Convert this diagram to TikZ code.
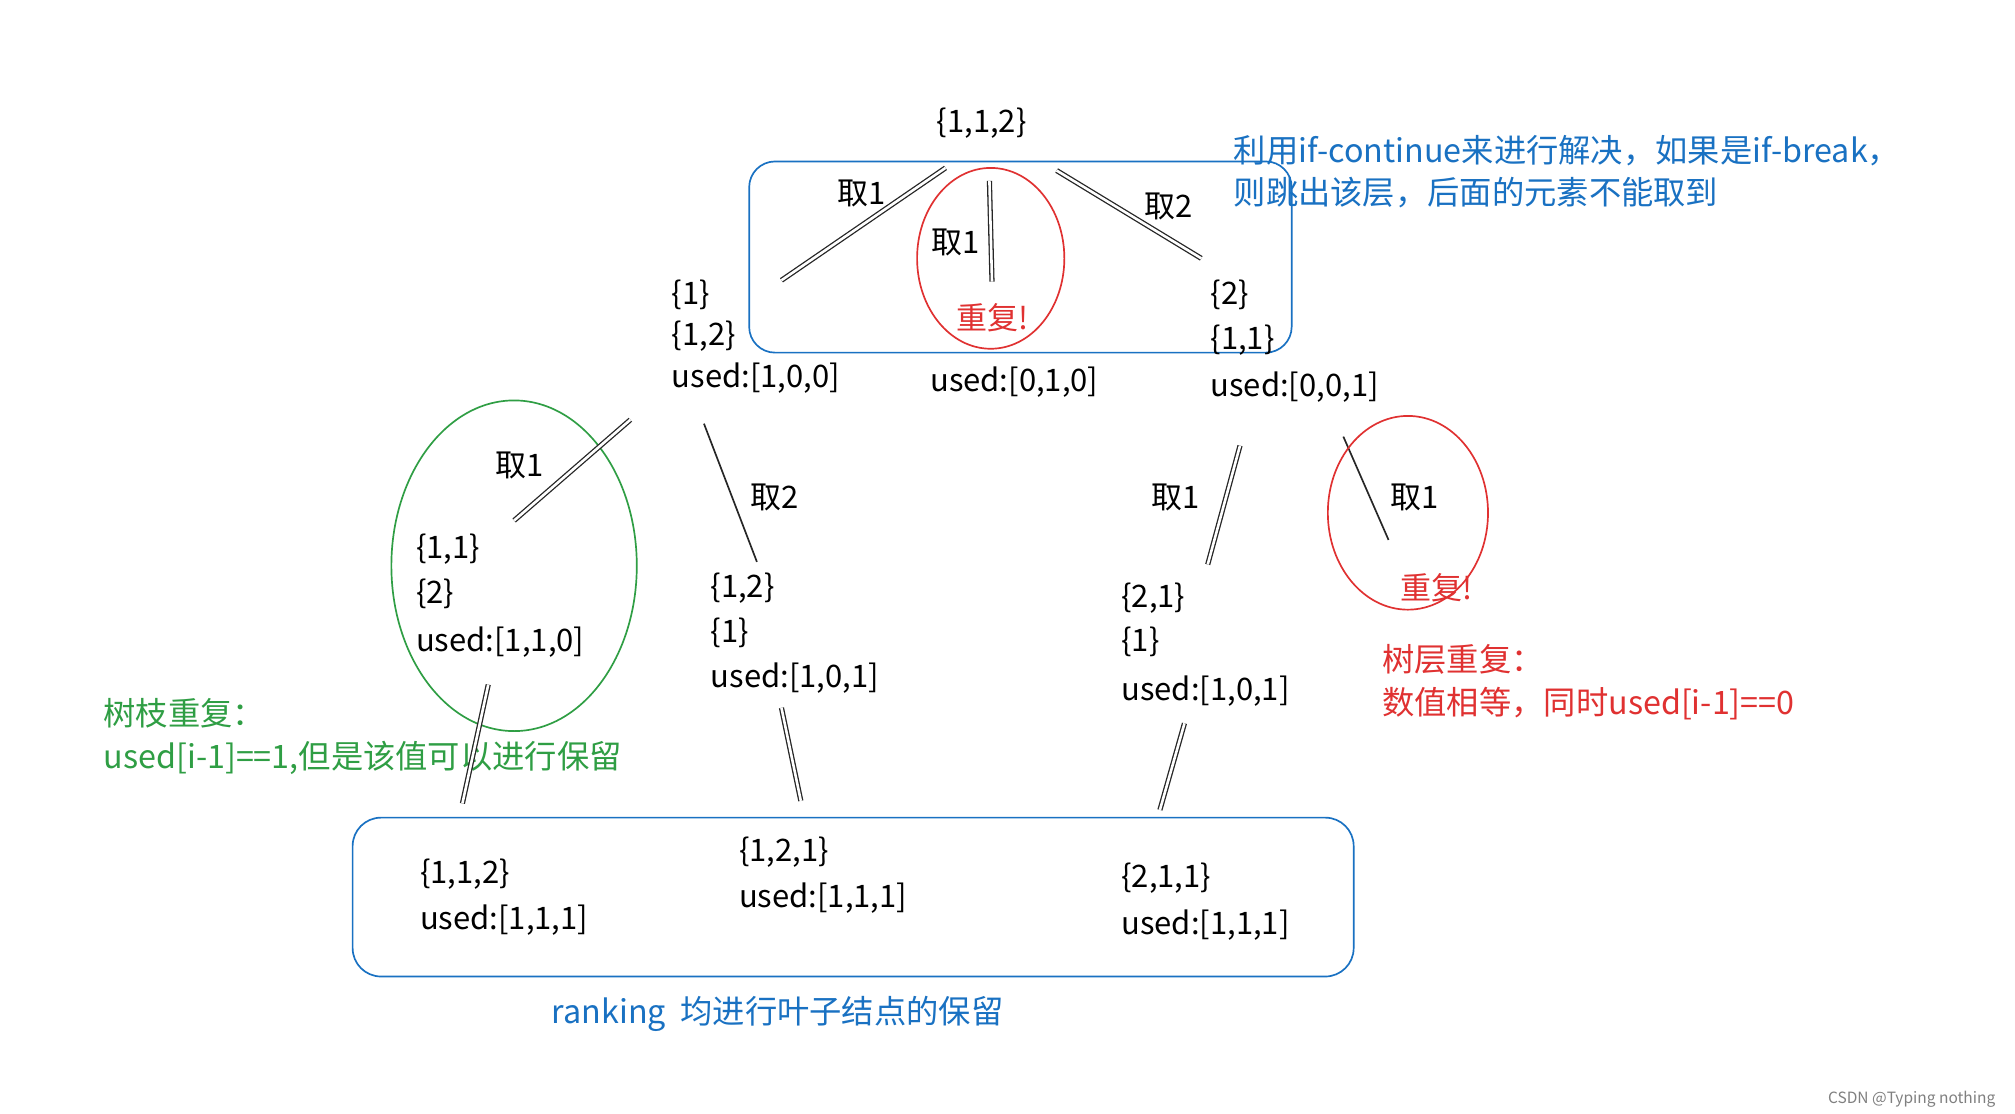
\documentclass[tikz,border=0pt]{standalone}
\usepackage{fontspec}
\setmainfont{Noto Sans CJK SC}
\definecolor{hb}{RGB}{25,113,194}
\definecolor{hr}{RGB}{224,49,49}
\definecolor{hg}{RGB}{47,158,68}
\begin{document}
\begin{tikzpicture}[x=1pt,y=-1pt,
  t/.style={font=\fontsize{24}{28}\selectfont,inner sep=0pt},
  lt/.style={t,anchor=west},
  lab/.style={t},
  ln/.style={line width=1.3pt,black!85},
  dl/.style={ln,double,double distance=2pt,line width=1pt},
  note/.style={font=\fontsize{25}{33}\selectfont,inner sep=0pt,anchor=west,align=left}]
\useasboundingbox (0,0) rectangle (1560,862);
\fill[white] (0,0) rectangle (1560,862);
% top
\node[t] (root) at (760,95) {\{1,1,2\}};
\draw[hb,line width=1.3pt,rounded corners=20pt] (580,125) rectangle (1000,273);
\draw[hr,line width=1.3pt] (767,200) ellipse (57 and 70);
\coordinate (a1) at (732,130); \coordinate (a2) at (605,217);
\coordinate (b1) at (766,140); \coordinate (b2) at (768,218);
\coordinate (c1) at (818,132); \coordinate (c2) at (930,200);
\draw[dl] (a1) -- (a2); \draw[dl] (b1) -- (b2); \draw[dl] (c1) -- (c2);
\node[lab] (l1) at (667,150) {取1};
\node[lab] (l2) at (740,188) {取1};
\node[lab] (l3) at (905,160) {取2};
\node[t,hr] (r1) at (768,246) {重复!};
\node[note,hb] (n1) at (955,133) {利用if-continue来进行解决，如果是if-break，\\则跳出该层，后面的元素不能取到};
% level 1
\node[lt] (s1) at (520,228) {\{1\}};
\node[lt] (s2) at (520,260) {\{1,2\}};
\node[lt] (s3) at (520,293) {used:[1,0,0]};
\node[lt] (m3) at (720,296) {used:[0,1,0]};
\node[lt] (u1) at (937,228) {\{2\}};
\node[lt] (u2) at (937,263) {\{1,1\}};
\node[lt] (u3) at (937,300) {used:[0,0,1]};
% level 2
\draw[hg,line width=1.3pt] (398,438) ellipse (95 and 128);
\coordinate (d1) at (488,325); \coordinate (d2) at (398,403);
\coordinate (e1) at (545,328); \coordinate (e2) at (586,435);
\coordinate (f1) at (960,345); \coordinate (f2) at (935,437);
\coordinate (g1) at (1040,338); \coordinate (g2) at (1075,418);
\draw[dl] (d1) -- (d2); \draw[ln] (e1) -- (e2); \draw[dl] (f1) -- (f2); \draw[ln] (g1) -- (g2);
\node[lab] (l4) at (402,360) {取1};
\node[lab] (l5) at (600,385) {取2};
\node[lab] (l6) at (910,385) {取1};
\node[lab] (l7) at (1095,385) {取1};
\draw[hr,line width=1.3pt] (1090,397) ellipse (62 and 75);
\node[t,hr] (r2) at (1112,455) {重复!};
\node[lt] (p1) at (322,425) {\{1,1\}};
\node[lt] (p2) at (322,460) {\{2\}};
\node[lt] (p3) at (322,497) {used:[1,1,0]};
\node[lt] (q1) at (550,455) {\{1,2\}};
\node[lt] (q2) at (550,490) {\{1\}};
\node[lt] (q3) at (550,525) {used:[1,0,1]};
\node[lt] (w1) at (868,463) {\{2,1\}};
\node[lt] (w2) at (868,497) {\{1\}};
\node[lt] (w3) at (868,535) {used:[1,0,1]};
\node[note,hg] (n2) at (80,570) {树枝重复：\\used[i-1]==1,但是该值可以进行保留};
\node[note,hr] (n3) at (1070,528) {树层重复：\\数值相等，同时used[i-1]==0};
% level 3
\coordinate (h1) at (378,530); \coordinate (h2) at (358,622);
\coordinate (i1) at (605,548); \coordinate (i2) at (620,620);
\coordinate (j1) at (917,560); \coordinate (j2) at (898,627);
\draw[dl] (h1) -- (h2); \draw[dl] (i1) -- (i2); \draw[dl] (j1) -- (j2);
\draw[hb,line width=1.3pt,rounded corners=22pt] (273,633) rectangle (1048,756);
\node[lt] (x1) at (325,677) {\{1,1,2\}};
\node[lt] (x2) at (325,712) {used:[1,1,1]};
\node[lt] (y1) at (572,660) {\{1,2,1\}};
\node[lt] (y2) at (572,695) {used:[1,1,1]};
\node[lt] (z1) at (868,680) {\{2,1,1\}};
\node[lt] (z2) at (868,716) {used:[1,1,1]};
\node[note,hb] (n4) at (427,785) {ranking\ \ 均进行叶子结点的保留};
\node[inner sep=0pt,gray,font=\fontsize{12}{14}\selectfont] (cs) at (1480,851) {CSDN @Typing nothing};
\end{tikzpicture}
\end{document}
